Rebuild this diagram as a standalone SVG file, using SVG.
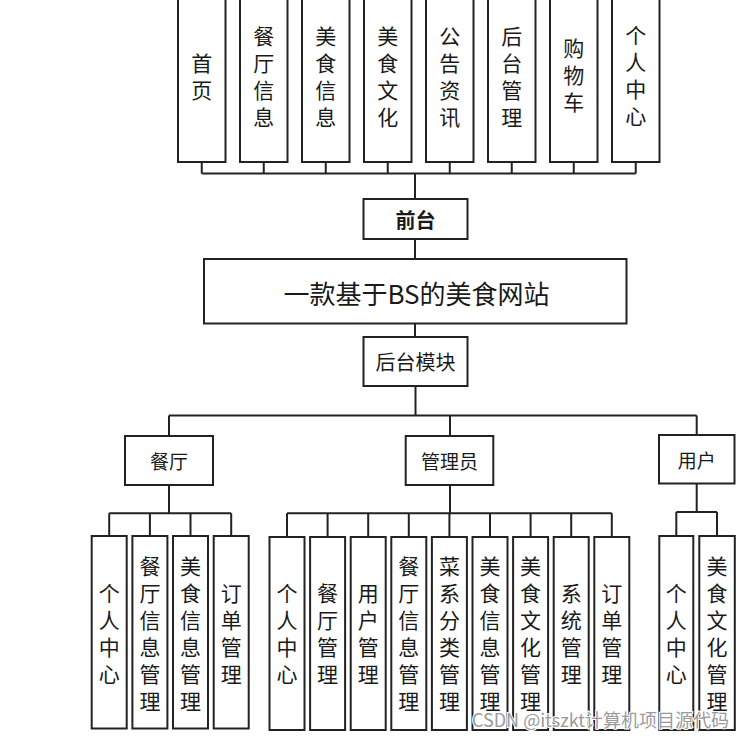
<svg xmlns="http://www.w3.org/2000/svg" width="745" height="741" viewBox="0 0 745 741">
<style>
.box{fill:#fff;stroke:#222;stroke-width:2}
.ln{fill:none;stroke:#222;stroke-width:2}
.v{font-family:"Noto Sans CJK SC","Noto Sans",sans-serif;font-size:21px;fill:#1a1a1a;text-anchor:middle;dominant-baseline:central}
.h{font-family:"Noto Sans CJK SC","Noto Sans",sans-serif;font-size:19px;fill:#1a1a1a;text-anchor:middle;dominant-baseline:central}
.t{font-family:"Noto Sans CJK SC","Noto Sans",sans-serif;font-size:26px;fill:#1a1a1a;text-anchor:middle;dominant-baseline:central}
.wm{font-family:"Noto Sans CJK SC","Noto Sans",sans-serif;font-size:18px;fill:#9a9a9a;stroke:#fff;stroke-width:2;paint-order:stroke;text-anchor:end}
</style>
<rect width="745" height="741" fill="#fff"/>
<g id="connectors">
<path class="ln" d="M201.75 162V173.5M263.75 162V173.5M325.75 162V173.5M387.75 162V173.5M449.75 162V173.5M511.75 162V173.5M573.75 162V173.5M635.75 162V173.5M201.75 173.5H635.75M415 173.5V199M415 239V259M415 323.5V337M415.5 386V415.5M169 415.5H696.7M169 415.5V436M450 415.5V436M696.7 415.5V435"/>
<path class="ln" d="M169 485V513.3M109.2 513.3H231.2M109.2 513.3V536M149.9 513.3V536M190.5 513.3V536M231.2 513.3V536"/>
<path class="ln" d="M450 485V513.3M287 513.3H611.8M287 513.3V537M327.6 513.3V537M368.2 513.3V537M408.8 513.3V537M449.4 513.3V537M490 513.3V537M530.6 513.3V537M571.2 513.3V537M611.8 513.3V537"/>
<path class="ln" d="M696.7 483.5V512M676.3 512H717M676.3 512V536M717 512V536"/>
</g>
<g id="top-1"><rect class="box" x="178" y="-10" width="47.5" height="172"/><text class="v"><tspan x="201.75" y="61.5">首</tspan><tspan x="201.75" y="88.5">页</tspan></text></g>
<g id="top-2"><rect class="box" x="240" y="-10" width="47.5" height="172"/><text class="v"><tspan x="263.75" y="34.5">餐</tspan><tspan x="263.75" y="61.5">厅</tspan><tspan x="263.75" y="88.5">信</tspan><tspan x="263.75" y="115.5">息</tspan></text></g>
<g id="top-3"><rect class="box" x="302" y="-10" width="47.5" height="172"/><text class="v"><tspan x="325.75" y="34.5">美</tspan><tspan x="325.75" y="61.5">食</tspan><tspan x="325.75" y="88.5">信</tspan><tspan x="325.75" y="115.5">息</tspan></text></g>
<g id="top-4"><rect class="box" x="364" y="-10" width="47.5" height="172"/><text class="v"><tspan x="387.75" y="34.5">美</tspan><tspan x="387.75" y="61.5">食</tspan><tspan x="387.75" y="88.5">文</tspan><tspan x="387.75" y="115.5">化</tspan></text></g>
<g id="top-5"><rect class="box" x="426" y="-10" width="47.5" height="172"/><text class="v"><tspan x="449.75" y="34.5">公</tspan><tspan x="449.75" y="61.5">告</tspan><tspan x="449.75" y="88.5">资</tspan><tspan x="449.75" y="115.5">讯</tspan></text></g>
<g id="top-6"><rect class="box" x="488" y="-10" width="47.5" height="172"/><text class="v"><tspan x="511.75" y="34.5">后</tspan><tspan x="511.75" y="61.5">台</tspan><tspan x="511.75" y="88.5">管</tspan><tspan x="511.75" y="115.5">理</tspan></text></g>
<g id="top-7"><rect class="box" x="550" y="-10" width="47.5" height="172"/><text class="v"><tspan x="573.75" y="47">购</tspan><tspan x="573.75" y="74">物</tspan><tspan x="573.75" y="101">车</tspan></text></g>
<g id="top-8"><rect class="box" x="612" y="-10" width="47.5" height="172"/><text class="v"><tspan x="635.75" y="33.5">个</tspan><tspan x="635.75" y="60.5">人</tspan><tspan x="635.75" y="87.5">中</tspan><tspan x="635.75" y="114.5">心</tspan></text></g>
<g id="qiantai"><rect class="box" x="363.5" y="199" width="104" height="40"/><text class="h" x="415.5" y="219" style="font-size:20px;font-weight:bold">前台</text></g>
<g id="main"><rect class="box" x="204" y="259" width="422.5" height="64.5"/><text class="t" x="416.5" y="292">一款基于BS的美食网站</text></g>
<g id="houtai"><rect class="box" x="363.5" y="337" width="104" height="49"/><text class="h" x="415.5" y="361" style="font-size:20px">后台模块</text></g>
<g id="canting"><rect class="box" x="125" y="436" width="88" height="49"/><text class="h" x="169" y="460.5">餐厅</text></g>
<g id="admin"><rect class="box" x="405.7" y="436" width="87.6" height="49"/><text class="h" x="449.5" y="460.5">管理员</text></g>
<g id="user"><rect class="box" x="659" y="435" width="75.5" height="48.5"/><text class="h" x="696.7" y="459">用户</text></g>
<g id="c1"><rect class="box" x="91.7" y="536" width="35" height="192.5"/><text class="v"><tspan x="109.2" y="591.5">个</tspan><tspan x="109.2" y="618.5">人</tspan><tspan x="109.2" y="645.5">中</tspan><tspan x="109.2" y="672.5">心</tspan></text></g>
<g id="c2"><rect class="box" x="132.4" y="536" width="35" height="192.5"/><text class="v"><tspan x="149.9" y="564.5">餐</tspan><tspan x="149.9" y="591.5">厅</tspan><tspan x="149.9" y="618.5">信</tspan><tspan x="149.9" y="645.5">息</tspan><tspan x="149.9" y="672.5">管</tspan><tspan x="149.9" y="699.5">理</tspan></text></g>
<g id="c3"><rect class="box" x="173" y="536" width="35" height="192.5"/><text class="v"><tspan x="190.5" y="564.5">美</tspan><tspan x="190.5" y="591.5">食</tspan><tspan x="190.5" y="618.5">信</tspan><tspan x="190.5" y="645.5">息</tspan><tspan x="190.5" y="672.5">管</tspan><tspan x="190.5" y="699.5">理</tspan></text></g>
<g id="c4"><rect class="box" x="213.7" y="536" width="35" height="192.5"/><text class="v"><tspan x="231.2" y="591.5">订</tspan><tspan x="231.2" y="618.5">单</tspan><tspan x="231.2" y="645.5">管</tspan><tspan x="231.2" y="672.5">理</tspan></text></g>
<g id="a1"><rect class="box" x="269.5" y="537" width="35" height="193"/><text class="v"><tspan x="287" y="592">个</tspan><tspan x="287" y="619">人</tspan><tspan x="287" y="646">中</tspan><tspan x="287" y="673">心</tspan></text></g>
<g id="a2"><rect class="box" x="310.1" y="537" width="35" height="193"/><text class="v"><tspan x="327.6" y="592">餐</tspan><tspan x="327.6" y="619">厅</tspan><tspan x="327.6" y="646">管</tspan><tspan x="327.6" y="673">理</tspan></text></g>
<g id="a3"><rect class="box" x="350.7" y="537" width="35" height="193"/><text class="v"><tspan x="368.2" y="592">用</tspan><tspan x="368.2" y="619">户</tspan><tspan x="368.2" y="646">管</tspan><tspan x="368.2" y="673">理</tspan></text></g>
<g id="a4"><rect class="box" x="391.3" y="537" width="35" height="193"/><text class="v"><tspan x="408.8" y="565">餐</tspan><tspan x="408.8" y="592">厅</tspan><tspan x="408.8" y="619">信</tspan><tspan x="408.8" y="646">息</tspan><tspan x="408.8" y="673">管</tspan><tspan x="408.8" y="700">理</tspan></text></g>
<g id="a5"><rect class="box" x="431.9" y="537" width="35" height="193"/><text class="v"><tspan x="449.4" y="565">菜</tspan><tspan x="449.4" y="592">系</tspan><tspan x="449.4" y="619">分</tspan><tspan x="449.4" y="646">类</tspan><tspan x="449.4" y="673">管</tspan><tspan x="449.4" y="700">理</tspan></text></g>
<g id="a6"><rect class="box" x="472.5" y="537" width="35" height="193"/><text class="v"><tspan x="490" y="565">美</tspan><tspan x="490" y="592">食</tspan><tspan x="490" y="619">信</tspan><tspan x="490" y="646">息</tspan><tspan x="490" y="673">管</tspan><tspan x="490" y="700">理</tspan></text></g>
<g id="a7"><rect class="box" x="513.1" y="537" width="35" height="193"/><text class="v"><tspan x="530.6" y="565">美</tspan><tspan x="530.6" y="592">食</tspan><tspan x="530.6" y="619">文</tspan><tspan x="530.6" y="646">化</tspan><tspan x="530.6" y="673">管</tspan><tspan x="530.6" y="700">理</tspan></text></g>
<g id="a8"><rect class="box" x="553.7" y="537" width="35" height="193"/><text class="v"><tspan x="571.2" y="592">系</tspan><tspan x="571.2" y="619">统</tspan><tspan x="571.2" y="646">管</tspan><tspan x="571.2" y="673">理</tspan></text></g>
<g id="a9"><rect class="box" x="594.3" y="537" width="35" height="193"/><text class="v"><tspan x="611.8" y="592">订</tspan><tspan x="611.8" y="619">单</tspan><tspan x="611.8" y="646">管</tspan><tspan x="611.8" y="673">理</tspan></text></g>
<g id="u1"><rect class="box" x="659.3" y="536" width="34" height="194"/><text class="v"><tspan x="676.3" y="591.5">个</tspan><tspan x="676.3" y="618.5">人</tspan><tspan x="676.3" y="645.5">中</tspan><tspan x="676.3" y="672.5">心</tspan></text></g>
<g id="u2"><rect class="box" x="699.3" y="536" width="35.5" height="194"/><text class="v"><tspan x="717" y="564.5">美</tspan><tspan x="717" y="591.5">食</tspan><tspan x="717" y="618.5">文</tspan><tspan x="717" y="645.5">化</tspan><tspan x="717" y="672.5">管</tspan><tspan x="717" y="699.5">理</tspan></text></g>
<text class="wm" x="729" y="727">CSDN @itszkt计算机项目源代码</text>
</svg>
